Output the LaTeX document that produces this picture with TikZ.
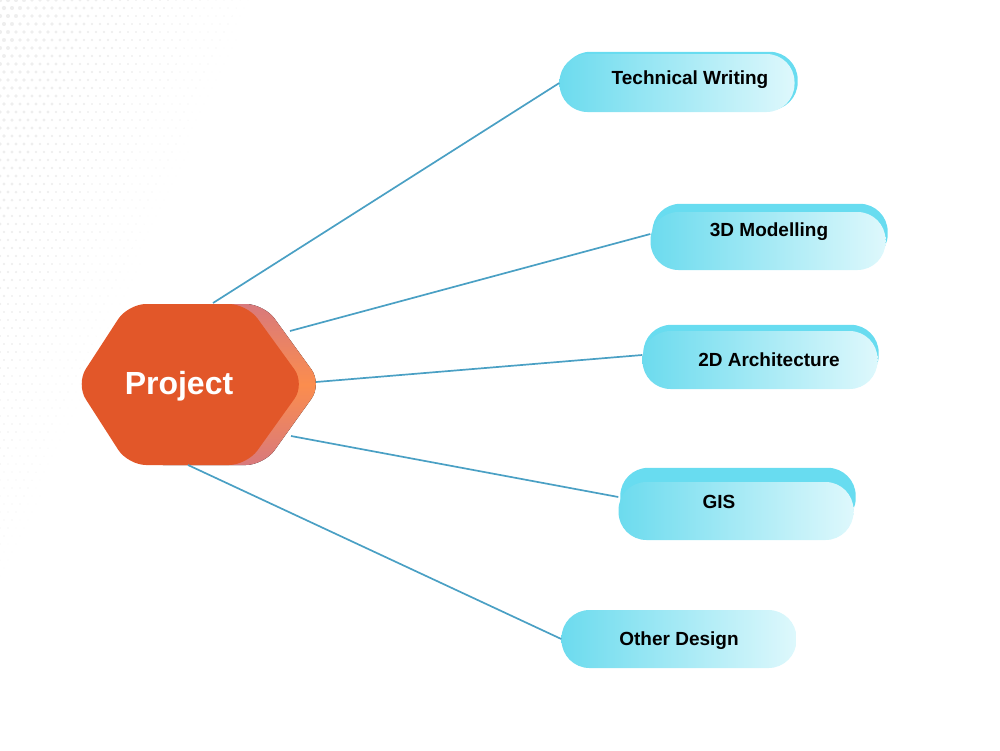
\documentclass[tikz,border=0pt]{standalone}
\usepackage{fontspec}
\setmainfont{Liberation Sans}
\usepackage{xcolor}
\usetikzlibrary{backgrounds}

\definecolor{hexorange}{RGB}{226,87,41}
\definecolor{hexpink}{RGB}{216,121,124}
\definecolor{hexlight}{RGB}{251,141,78}
\definecolor{pillleft}{RGB}{108,219,238}
\definecolor{pillright}{RGB}{222,248,252}
\definecolor{pillback}{RGB}{104,220,240}
\definecolor{linkblue}{RGB}{74,160,196}
\definecolor{dotgrey}{RGB}{238,238,238}

\tikzset{
  topic/.style={rounded corners=28pt, minimum width=235pt, minimum height=58pt,
    left color=pillleft, right color=pillright, inner sep=0pt},
  topictext/.style={font=\fontsize{19}{23}\selectfont\bfseries, text=black},
  link/.style={linkblue, line width=1.7pt}
}

\begin{document}
\begin{tikzpicture}[x=1pt, y=-1pt]
    \useasboundingbox (0,0) rectangle (1000,750);

    % Faint dots in the top left corner
    \foreach \i in {0,...,40}
        \foreach \j in {0,...,88} {
            \pgfmathsetmacro\dotx{\i*8 + mod(\j,2)*4}
            \pgfmathsetmacro\dotr{2.2*(1 - (\dotx + 0.43*\j*8)/310)}
            \ifdim\dotr pt>0.4pt
                \fill[dotgrey] (\dotx, \j*8) circle (\dotr);
            \fi
        }

    % The hexagon behind, then the hexagon in front
    \fill[rounded corners=18pt, top color=hexpink, bottom color=hexpink, middle color=hexlight]
        (93,384) -- (145,304) -- (264,304) -- (322,384) -- (264,465) -- (145,465) -- cycle;
    \fill[hexorange, rounded corners=18pt]
        (76,384) -- (128,304) -- (247,304) -- (305,384) -- (247,465) -- (128,465) -- cycle;
    \node[text=white, font=\fontsize{32}{38}\selectfont\bfseries] (project) at (179,386) {Project};

    % Where the links leave the hexagon
    \coordinate (p1) at (213,303);
    \coordinate (p2) at (290,331);
    \coordinate (p3) at (316,382);
    \coordinate (p4) at (291,436);
    \coordinate (p5) at (188,465);

    % The five topics
    \node[topic, label={[topictext, shift={(13,-3)}]center:Technical Writing}] (writing) at (677,83) {};
    \node[topic, label={[topictext, shift={(1,-9)}]center:3D Modelling}] (modelling) at (768,241) {};
    \node[topic, label={[topictext, shift={(9,0)}]center:2D Architecture}] (architecture) at (760,360) {};
    \node[topic, label={[topictext, shift={(-17,-9)}]center:GIS}] (gis) at (736,511) {};
    \node[topic, label={[topictext, shift={(0,2)}]center:Other Design}] (design) at (679,639) {};

    % Raised copies behind the topics
    \begin{pgfonlayer}{background}
    \foreach \n/\dx/\dy in {writing/3/-2, modelling/2/-8, architecture/1/-6, gis/2/-14}
        \fill[pillback, rounded corners=28pt]
            ([shift={(\dx,\dy)}]\n.south west) rectangle ([shift={(\dx,\dy)}]\n.north east);
    \end{pgfonlayer}

    % Links
    \draw[link] (p1) -- (writing.west);
    \draw[link] (p2) -- ([yshift=7pt]modelling.west);
    \draw[link] (p3) -- ([yshift=5pt]architecture.west);
    \draw[link] (p4) -- ([yshift=14pt]gis.west);
    \draw[link] (p5) -- (design.west);
\end{tikzpicture}
\end{document}
